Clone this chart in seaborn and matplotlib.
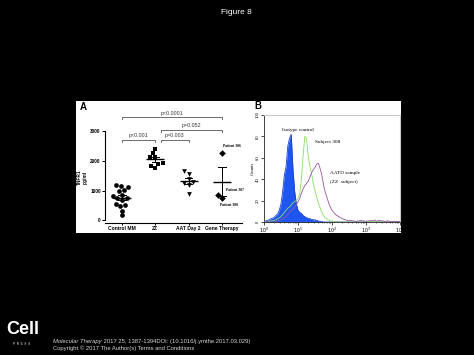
import numpy as np
import pandas as pd
import matplotlib
matplotlib.use("Agg")
import matplotlib.pyplot as plt
import seaborn as sns
from matplotlib.patches import Rectangle

# ---------------- Panel A data ----------------
groups = ["Control MM", "ZZ", "AAT Day 2", "Gene Therapy"]
control_mm = [1150, 1200, 1130, 1000, 1020, 870, 820, 740, 700, 760, 520, 480, 540, 330, 170]
zz = [2420, 2280, 2140, 2140, 1930, 1910, 1830, 1775]
aat_day2 = [1650, 1570, 1400, 1300, 1250, 1200, 880]
gene_therapy = [2280, 870, 760]
group_markers = ["o", "s", "v", "D"]
yticks_A = [0, 1000, 2000, 3000]
patients = ["Patient 306", "Patient 307", "Patient 308"]
comparisons = [
    ("Control MM", "ZZ", "p<0.001", 2720),
    ("ZZ", "AAT Day 2", "p=0.003", 2720),
    ("ZZ", "Gene Therapy", "p=0.052", 3060),
    ("Control MM", "Gene Therapy", "p<0.0001", 3480),
]

# ---------------- Panel B data ----------------
fl1_decades = np.arange(0, 4.001, 0.05)  # channel grid (log10 FL1-H)
isotype_control = [0, 1, 1.5, 2, 3, 3.5, 4.5, 6, 7.5, 11, 17, 29, 44, 52, 71, 78, 82, 50, 29, 17,
                   11, 9, 8, 6, 5, 4, 3.5, 3, 2.5, 2, 2, 1.5, 1, 0.5, 0.3] + [0] * 46
subject_308 = [0, 0, 0, 0.5, 1, 1, 1.5, 2, 3, 4, 5, 7, 9, 11, 13, 14, 16, 18, 19, 20,
               22, 26, 40, 62, 80, 78, 62, 52, 45, 36, 29, 23, 18, 13, 9, 6, 4, 3, 2, 1,
               1, 0.5] + [0] * 20 + [0.5, 0.5, 0, 0.5, 0.5, 0.5, 0, 0.5, 0.5, 0, 0, 0.5, 0.5, 0, 0, 0, 0, 0, 0]
aatd_sample = [0] * 7 + [0.5, 1, 1.5, 2, 3, 4, 5, 7, 9, 11, 12, 14, 16, 19, 22, 27, 31, 34, 36, 38,
                         42, 46, 49, 51, 54, 55, 50, 44, 35, 28, 23, 18, 14, 11, 9, 7, 6, 5, 4, 3,
                         2.5, 2, 1.5] + [1, 1.5, 1, 1, 0.5, 1, 1, 1.5, 1, 1, 0.5, 1, 1, 1.5, 1, 2,
                                         1, 1, 1.5, 1, 1, 0.5, 1, 1, 0.5, 0.5, 0.5, 0.5, 0.5, 0.5, 0]
sample_names = ["Isotype control", "Subject 308", "AATD sample"]

assert len(isotype_control) == len(fl1_decades)
assert len(subject_308) == len(fl1_decades)
assert len(aatd_sample) == len(fl1_decades)

# ---------------- tables ----------------
values_by_group = [control_mm, zz, aat_day2, gene_therapy]
dfA = pd.DataFrame({
    "group": [g for g, v in zip(groups, values_by_group) for _ in v],
    "value": [x for v in values_by_group for x in v],
})
fl1 = 10 ** fl1_decades
dfB = pd.DataFrame({
    "FL1-H": np.concatenate([fl1] * 3),
    "Counts": isotype_control + subject_308 + aatd_sample,
    "sample": np.repeat(sample_names, len(fl1)),
})

# ---------------- figure ----------------
W, H = 474, 355
fig = plt.figure(figsize=(W / 100, H / 100), dpi=100, facecolor="black")
fig.patches.append(Rectangle((76 / W, 1 - 233 / H), 325 / W, 132 / H,
                             transform=fig.transFigure, facecolor="white",
                             edgecolor="none", zorder=-5))

sans = "Liberation Sans"
serif = "Liberation Serif"

# ---------------- Panel A ----------------
axA = fig.add_axes([105 / W, 1 - 223 / H, 137 / W, (223 - 131.3) / H])
axA.set_facecolor("none")
for g, m in zip(groups, group_markers):
    sns.swarmplot(data=dfA[dfA["group"] == g], x="group", y="value", order=groups,
                  marker=m, color="black", size=3.4, ax=axA, zorder=3)
sns.pointplot(data=dfA, x="group", y="value", order=groups, errorbar="se",
              color="black", marker="_", markersize=13, markeredgewidth=1.0,
              linestyle="none", capsize=0.22, err_kws={"linewidth": 0.7}, ax=axA)
axA.set_xlim(-0.51, 3.6)
axA.set_ylim(-90, 3000)
axA.set_yticks(yticks_A)
axA.set_yticklabels([str(t) for t in yticks_A], fontsize=3.4, fontweight="bold", family=sans)
axA.set_xticks(range(len(groups)))
axA.set_xticklabels(groups, fontsize=3.6, fontweight="bold", family=sans)
axA.tick_params(axis="y", length=2, width=0.7, pad=1, colors="black")
axA.tick_params(axis="x", length=1.6, width=0.7, pad=0.5, colors="black")
axA.spines["top"].set_visible(False)
axA.spines["right"].set_visible(False)
axA.spines["left"].set_bounds(0, 3000)
for s in ("left", "bottom"):
    axA.spines[s].set_linewidth(0.8)
axA.set_xlabel("")
axA.set_ylabel("TNFR1\npg/ml", fontsize=3.4, fontweight="bold", family=sans, labelpad=2)

pos = {g: i for i, g in enumerate(groups)}
for lo, hi, label, level in comparisons:
    x0 = pos[lo] + (0.17 if lo == "ZZ" else 0)
    x1 = pos[hi]
    axA.plot([x0, x0, x1, x1], [level - 70, level, level, level - 70], color="#555555",
             lw=0.6, clip_on=False)
    axA.text((x0 + x1) / 2, level + 45, label, ha="center", va="bottom", fontsize=3.8,
             color="#333333", family=sans, clip_on=False)

patient_offsets = [(1, 4.5), (3, 3.5), (-1.5, -5)]
for name, val, off in zip(patients, gene_therapy, patient_offsets):
    axA.annotate(name, xy=(3, val), xytext=off, textcoords="offset points",
                 ha="left", va="center", fontsize=2.7, fontweight="bold", family=serif,
                 annotation_clip=False)

fig.text(80 / W, 1 - 107 / H, "A", fontsize=7, fontweight="bold", family=sans,
         va="center", ha="left")

# ---------------- Panel B ----------------
axB = fig.add_axes([264 / W, 1 - 222 / H, 136 / W, 107 / H])
axB.set_facecolor("none")
iso = dfB[dfB["sample"] == "Isotype control"]
axB.fill_between(iso["FL1-H"], iso["Counts"], color="#1f55f0", lw=0, zorder=2)
sns.lineplot(data=dfB, x="FL1-H", y="Counts", hue="sample", hue_order=sample_names,
             palette=["#1a3fd0", "#86df62", "#9b55a3"], linewidth=0.6, legend=False,
             ax=axB, zorder=3)
axB.set_xscale("log")
axB.set_xlim(1, 1e4)
axB.set_ylim(0, 100)
axB.set_yticks([0, 20, 40, 60, 80, 100])
axB.tick_params(axis="y", labelrotation=90)
axB.tick_params(axis="both", which="major", length=2, width=0.5, pad=1, labelsize=3.4)
axB.tick_params(axis="both", which="minor", length=1, width=0.4)
for lab in axB.get_yticklabels():
    lab.set_family(serif)
    lab.set_va("center")
axB.set_xlabel("FL1-H", fontsize=3, family=serif, labelpad=0.5, loc="left")
axB.set_ylabel("Counts", fontsize=3.4, family=serif, labelpad=1)
for s in ("left", "bottom"):
    axB.spines[s].set_linewidth(0.6)
    axB.spines[s].set_color("#222222")
for s in ("top", "right"):
    axB.spines[s].set_linewidth(0.8)
    axB.spines[s].set_color("#c8c8c8")

axB.text(0.25, 0.86, "Isotype control", transform=axB.transAxes, ha="center",
         va="center", fontsize=3.8, family=serif)
axB.text(0.375, 0.75, "Subject 308", transform=axB.transAxes, ha="left",
         va="center", fontsize=3.8, family=serif)
axB.text(0.485, 0.455, "AATD sample", transform=axB.transAxes, ha="left",
         va="center", fontsize=3.8, family=serif)
axB.text(0.485, 0.37, "(ZZ  subject)", transform=axB.transAxes, ha="left",
         va="center", fontsize=3.8, family=serif)

fig.text(254 / W, 1 - 106 / H, "B", fontsize=7, fontweight="bold", family=sans,
         va="center", ha="left")

# ---------------- page texts ----------------
fig.text(236 / W, 1 - 12 / H, "Figure 8", color="white", fontsize=6, family=sans,
         ha="center", va="center")
fig.text(6 / W, 1 - 330 / H, "Cell", color="white", fontsize=13, fontweight="bold",
         family=sans, ha="left", va="center")
fig.text(22 / W, 1 - 344 / H, "P  R  E  S  S", color="white", fontsize=2.2,
         family=sans, ha="center", va="center")

foot = "#d6d6d6"
t1 = fig.text(53 / W, 1 - 341 / H, "Molecular Therapy", color=foot, fontsize=4.2,
              style="italic", family=sans, ha="left", va="center")
axA.annotate(" 2017 25, 1387-1394DOI: (10.1016/j.ymthe.2017.03.029)", xy=(1, 0.5),
             xycoords=t1, ha="left", va="center", color=foot, fontsize=4.2,
             family=sans, annotation_clip=False)
t2 = fig.text(53 / W, 1 - 348.5 / H, "Copyright \u00a9 2017 The Author(s)", color=foot,
              fontsize=4.2, family=sans, ha="left", va="center")
axA.annotate(" Terms and Conditions", xy=(1, 0.5), xycoords=t2, ha="left", va="center",
             color=foot, fontsize=4.2, family=sans, annotation_clip=False)

fig.savefig("out.png", dpi=100, facecolor="black")
